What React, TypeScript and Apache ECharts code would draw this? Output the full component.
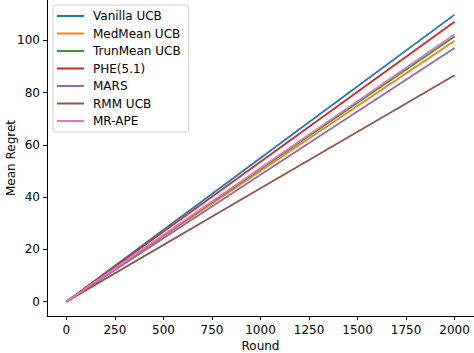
import React, { useEffect, useRef } from "react";
import * as echarts from "echarts";

const rounds = [0, 1000, 2000];
const seriesNames = ["Vanilla UCB", "MedMean UCB", "TrunMean UCB", "PHE(5.1)", "MARS", "RMM UCB", "MR-APE"];
const vanilla = [0, 55.0, 109.9];
const medMean = [0, 50.0, 99.9];
const trunMean = [0, 50.8, 101.5];
const phe = [0, 53.6, 107.2];
const mars = [0, 48.6, 97.1];
const rmm = [0, 43.4, 86.7];
const mrApe = [0, 51.2, 102.4];
const colors = ["#1f77b4", "#ff7f0e", "#2ca02c", "#d62728", "#9467bd", "#8c564b", "#e377c2"];
const xTicks = [0, 250, 500, 750, 1000, 1250, 1500, 1750, 2000];
const yTicks = [0, 20, 40, 60, 80, 100];

export default function App() {
  const ref = useRef<HTMLDivElement>(null);
  useEffect(() => {
    const chart = echarts.init(ref.current!, undefined, { renderer: "svg" });
    const all = [vanilla, medMean, trunMean, phe, mars, rmm, mrApe];
    const font = "DejaVu Sans";
    chart.setOption({
      animation: false,
      textStyle: { fontFamily: font },
      grid: { left: 47, right: 0, top: 0, bottom: 37, containLabel: false, outerBoundsMode: "none" },
      legend: {
        orient: "vertical",
        left: 53,
        top: 5,
        icon: "rect",
        itemWidth: 27,
        itemHeight: 2,
        itemGap: 3.5,
        padding: [4, 8, 4, 4],
        borderColor: "#d0d0d0",
        borderWidth: 1,
        borderRadius: 3,
        textStyle: { fontFamily: font, fontSize: 12, color: "#000", lineHeight: 14, padding: [0, 0, 0, 4] },
        data: seriesNames,
      },
      xAxis: {
        type: "value",
        min: -100,
        max: 2100,
        name: "Round",
        nameLocation: "middle",
        nameGap: 24,
        nameMoveOverlap: false,
        nameTextStyle: { fontFamily: font, fontSize: 12, color: "#000" },
        splitLine: { show: false },
        axisLine: { onZero: false, lineStyle: { color: "#000", width: 1 } },
        axisTick: { length: 4, lineStyle: { color: "#000" }, customValues: xTicks },
        axisLabel: {
          fontFamily: font,
          fontSize: 12,
          color: "#000",
          margin: 8,
          customValues: xTicks,
          formatter: (v: number) => String(v),
        },
      },
      yAxis: {
        type: "value",
        min: -5.5,
        max: 115.5,
        name: "Mean Regret",
        nameLocation: "middle",
        nameGap: 30,
        nameMoveOverlap: false,
        nameTextStyle: { fontFamily: font, fontSize: 12, color: "#000" },
        splitLine: { show: false },
        axisLine: { show: true, onZero: false, lineStyle: { color: "#000", width: 1 } },
        axisTick: { show: true, length: 4, lineStyle: { color: "#000" }, customValues: yTicks },
        axisLabel: {
          fontFamily: font,
          fontSize: 12,
          color: "#000",
          margin: 7,
          customValues: yTicks,
          formatter: (v: number) => String(v),
        },
      },
      series: seriesNames.map((name, i) => ({
        name,
        type: "line",
        data: rounds.map((r, j) => [r, all[i][j]]),
        symbol: "none",
        lineStyle: { color: colors[i], width: 1.8 },
        itemStyle: { color: colors[i] },
      })),
    });
    return () => chart.dispose();
  }, []);
  return <div ref={ref} style={{ width: 474, height: 353, position: "absolute", left: 0, top: 0 }} />;
}
